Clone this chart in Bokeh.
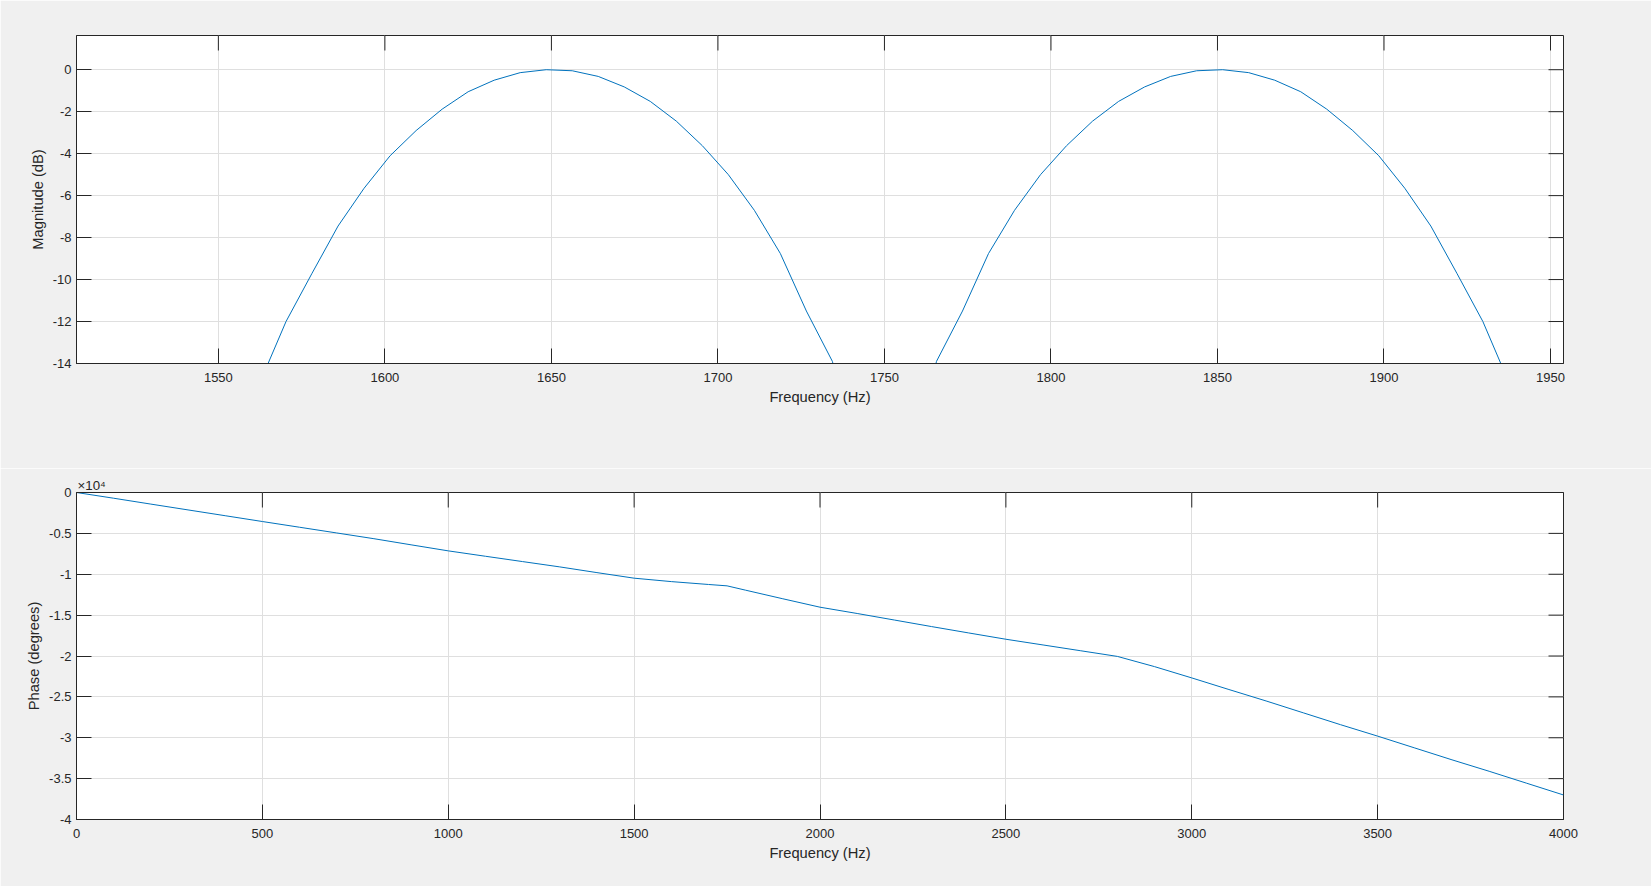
import numpy as np
from bokeh.plotting import figure
from bokeh.models import Range1d, FixedTicker, CustomJSTickFormatter
from bokeh.layouts import column
from bokeh.embed import file_html
from bokeh.resources import INLINE

# ---------------- data ----------------
fs = 8000.0
nfft = 1024
mag_bins = list(range(200, 249))
mag_db = [-14.9, -12.0, -9.7, -7.45, -5.65, -4.1, -2.9, -1.88, -1.05, -0.5,
          -0.14, 0.0, -0.05, -0.32, -0.82, -1.51, -2.45, -3.62, -5.0, -6.7,
          -8.76, -11.5, -13.9, -19.0, -30.0, -19.0, -13.9, -11.5, -8.76, -6.7,
          -5.0, -3.62, -2.45, -1.51, -0.82, -0.32, -0.05, 0.0, -0.14, -0.5,
          -1.05, -1.88, -2.9, -4.1, -5.65, -7.45, -9.7, -12.0, -14.9]
mag_freq = [b * fs / nfft for b in mag_bins]

phase_freq = [0, 100, 200, 300, 400, 500, 600, 700, 800, 900, 1000, 1100, 1200,
              1300, 1400, 1500, 1600, 1700, 1750, 1800, 1900, 2000, 2100, 2200,
              2300, 2400, 2500, 2600, 2700, 2800, 2900, 3000, 3100, 3200, 3300,
              3400, 3500, 3600, 3700, 3800, 3900, 4000]
phase_deg = [0, -700, -1420, -2130, -2840, -3550, -4250, -4950, -5650, -6400,
             -7140, -7800, -8450, -9100, -9800, -10480, -10900, -11250, -11420,
             -11950, -13000, -14030, -14800, -15600, -16400, -17180, -17950,
             -18650, -19350, -20050, -21300, -22680, -24100, -25500, -26950,
             -28400, -29800, -31250, -32700, -34100, -35550, -37000]

mag_xlim = (1507.4, 1953.9)
mag_ylim = (-14, 1.63)
ph_xlim = (0, 4000)
ph_ylim = (-40000, 0)

mag_xticks = [1550, 1600, 1650, 1700, 1750, 1800, 1850, 1900, 1950]
mag_yticks = [-14, -12, -10, -8, -6, -4, -2, 0]
ph_xticks = [0, 500, 1000, 1500, 2000, 2500, 3000, 3500, 4000]
ph_yticks = [-40000, -35000, -30000, -25000, -20000, -15000, -10000, -5000, 0]

# ---------------- style ----------------
FONT = "Liberation Sans"
TXT = "#262626"
GRID = "#dfdfdf"
LINE = "#0072BD"
BG = "#f0f0f0"
TICK_LEN = 15


def style(p, xticks, yticks, xlim, ylim, yfmt):
    p.xaxis.ticker = FixedTicker(ticks=xticks)
    p.yaxis.ticker = FixedTicker(ticks=yticks)
    p.xgrid.ticker = FixedTicker(ticks=xticks)
    p.ygrid.ticker = FixedTicker(ticks=yticks)
    for g in (p.xgrid, p.ygrid):
        g.grid_line_color = GRID
        g.grid_line_width = 1
    p.background_fill_color = "white"
    p.border_fill_color = BG
    p.outline_line_color = TXT
    p.outline_line_width = 1
    for ax in p.axis:
        ax.axis_line_color = TXT
        ax.major_tick_line_color = TXT
        ax.major_tick_in = TICK_LEN
        ax.major_tick_out = 0
        ax.minor_tick_in = 0
        ax.minor_tick_out = 0
        ax.major_label_text_font = FONT
        ax.major_label_text_font_size = "13px"
        ax.major_label_text_color = TXT
        ax.axis_label_text_font = FONT
        ax.axis_label_text_font_size = "14.7px"
        ax.axis_label_text_font_style = "normal"
        ax.axis_label_text_color = TXT
        ax.axis_label_standoff = 4
    p.xaxis.major_label_standoff = 9
    p.yaxis.major_label_standoff = 5
    p.yaxis.formatter = yfmt
    # inward tick marks on the top and right edges of the box
    p.scatter(xticks, [ylim[1]] * len(xticks), marker="dash", size=2 * TICK_LEN,
              angle=np.pi / 2, line_color=TXT, line_width=1)
    p.scatter([xlim[1]] * len(yticks), yticks, marker="dash", size=2 * TICK_LEN,
              line_color=TXT, line_width=1)


plain_fmt = CustomJSTickFormatter(code="return String(tick);")
e4_fmt = CustomJSTickFormatter(
    code="var v = tick/10000; return (Math.abs(v) < 1e-9) ? '0' : String(Math.round(v*10)/10);")

# ---------------- magnitude plot ----------------
p1 = figure(width=1651, height=468, output_backend="svg", toolbar_location=None,
            x_range=Range1d(*mag_xlim), y_range=Range1d(*mag_ylim),
            min_border_left=75, min_border_right=88, min_border_top=35,
            min_border_bottom=105)
p1.line(mag_freq, mag_db, line_color=LINE, line_width=1)
p1.xaxis.axis_label = "Frequency (Hz)"
p1.yaxis.axis_label = "Magnitude (dB)"
style(p1, mag_xticks, mag_yticks, mag_xlim, mag_ylim, plain_fmt)

# ---------------- phase plot ----------------
p2 = figure(width=1651, height=418, output_backend="svg", toolbar_location=None,
            x_range=Range1d(*ph_xlim), y_range=Range1d(*ph_ylim),
            min_border_left=76, min_border_right=88, min_border_top=24,
            min_border_bottom=67, title="×10⁴")
p2.line(phase_freq, phase_deg, line_color=LINE, line_width=1)
p2.xaxis.axis_label = "Frequency (Hz)"
p2.yaxis.axis_label = "Phase (degrees)"
style(p2, ph_xticks, ph_yticks, ph_xlim, ph_ylim, e4_fmt)
p2.title.align = "left"
p2.title.offset = 1
p2.title.standoff = 0
p2.title.text_font = FONT
p2.title.text_font_size = "13.3px"
p2.title.text_font_style = "normal"
p2.title.text_color = TXT

layout = column(p1, p2)
open("out.html", "w").write(file_html(layout, INLINE))
